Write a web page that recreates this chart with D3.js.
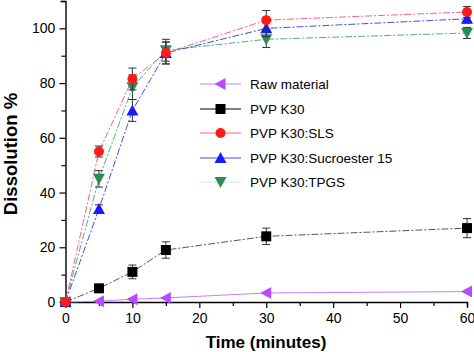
<!DOCTYPE html>
<html><head><meta charset="utf-8">
<script src="https://cdn.jsdelivr.net/npm/d3@7"></script>
<style>body{margin:0;background:#fff}svg{display:block}text{font-family:"Liberation Sans",Arial,sans-serif}</style>
</head><body><svg id="c" width="474" height="352"></svg>
<script>
const times = [0, 5, 10, 15, 30, 60];
const seriesNames = ["Raw material", "PVP K30", "PVP K30:SLS", "PVP K30:Sucroester 15", "PVP K30:TPGS"];
const rawMaterial = [0, 0.3, 1, 1.5, 3.3, 3.8];
const pvpK30 = [0, 5, 11, 19, 24, 27];
const pvpSLS = [0, 55, 81.5, 91, 103, 106];
const pvpSucro = [0, 34, 70, 91, 100, 103.5];
const pvpTPGS = [0, 45, 78.5, 92, 96, 98.3];
const errRaw = [0, 0, 0, 0, 0, 0];
const errK30 = [0, 0, 2.5, 3, 3, 3.5];
const errSLS = [0, 2, 4, 4, 3.5, 2];
const errSucro = [0, 1.5, 4, 4, 3, 1.5];
const errTPGS = [0, 3, 4.5, 4, 3, 2];
const xTicks = [0, 10, 20, 30, 40, 50, 60];
const yTicks = [0, 20, 40, 60, 80, 100];

const colors = ["#b44dff", "#000000", "#ff1a1a", "#1a1aff", "#2e8b57"];
const lineColors = ["#c77dff", "#555555", "#ff6080", "#4050e0", "#50b080"];
const shapes = ["triLeft", "square", "circle", "triUp", "triDown"];
const values = [rawMaterial, pvpK30, pvpSLS, pvpSucro, pvpTPGS];
const errs = [errRaw, errK30, errSLS, errSucro, errTPGS];

const svg = d3.select("#c");
const x = d3.scaleLinear().domain([0, 60]).range([65.5, 467]);
const y = d3.scaleLinear().domain([0, 110]).range([302, 1]);

// axes
const gx = svg.append("g").attr("transform", "translate(0,302)");
gx.call(d3.axisBottom(x).tickValues(d3.range(0, 61, 5)).tickSize(5).tickFormat(d => xTicks.includes(d) ? d : ""));
gx.selectAll(".tick line").attr("y2", d => xTicks.includes(d) ? 6 : 4);
const gy = svg.append("g").attr("transform", "translate(65.5,0)");
gy.call(d3.axisLeft(y).tickValues(d3.range(0, 111, 10)).tickSize(5).tickFormat(d => yTicks.includes(d) ? d : ""));
gy.selectAll(".tick line").attr("x2", d => yTicks.includes(d) ? -6 : -4);
[gx, gy].forEach(g => {
  g.select(".domain").attr("stroke", "#000").attr("stroke-width", 1.4);
  g.selectAll(".tick line").attr("stroke", "#000").attr("stroke-width", 1.2);
  g.selectAll("text").attr("font-size", 14).attr("fill", "#000");
});
gx.selectAll("text").attr("dy", "0.95em");
gy.selectAll("text").attr("dx", "-0.15em");

function sym(shape, s) {
  const h = s / 2;
  if (shape === "square") return `M${-h},${-h}H${h}V${h}H${-h}Z`;
  if (shape === "circle") return d3.symbol(d3.symbolCircle, Math.PI * h * h)();
  if (shape === "triUp") return `M0,${-h - 1}L${h + 1},${h}L${-h - 1},${h}Z`;
  if (shape === "triDown") return `M0,${h + 1}L${h + 1},${-h}L${-h - 1},${-h}Z`;
  if (shape === "triLeft") return `M${-h - 1},0L${h},${-h - 1}L${h},${h + 1}Z`;
}

const line = d3.line().x(d => x(d[0])).y(d => y(d[1]));
const order = [0, 1, 4, 3, 2];
order.forEach(i => {
  const pts = times.map((t, j) => [t, values[i][j]]);
  svg.append("path").attr("d", line(pts)).attr("fill", "none")
    .attr("stroke", lineColors[i]).attr("stroke-width", 1)
    .attr("stroke-dasharray", i === 0 ? null : "7,2,2,2");
});
order.forEach(i => {
  const g = svg.append("g");
  times.forEach((t, j) => {
    const e = errs[i][j];
    if (e > 0) {
      const cx = x(t), y1 = y(values[i][j] + e), y2 = y(values[i][j] - e);
      g.append("path").attr("d", `M${cx},${y1}V${y2}M${cx - 4},${y1}H${cx + 4}M${cx - 4},${y2}H${cx + 4}`)
        .attr("stroke", "#333").attr("stroke-width", 1).attr("fill", "none");
    }
    g.append("path").attr("d", sym(shapes[i], 10))
      .attr("transform", `translate(${x(t)},${y(values[i][j])})`)
      .attr("fill", colors[i]);
  });
});

// legend
const legY = [84, 109, 133, 158, 182];
seriesNames.forEach((n, i) => {
  const g = svg.append("g").attr("transform", `translate(0,${legY[i]})`);
  g.append("line").attr("x1", 200).attr("x2", 241).attr("stroke", i === 4 ? "#c8ead8" : lineColors[i]).attr("stroke-width", i === 1 ? 1.5 : 1);
  g.append("path").attr("d", sym(shapes[i], 10)).attr("transform", "translate(220.5,0)").attr("fill", colors[i]);
  g.append("text").attr("x", 250).attr("y", 5).attr("font-size", 13.5).attr("fill", "#000").text(n);
});

// titles
svg.append("text").attr("transform", "translate(17,154) rotate(-90)").attr("text-anchor", "middle")
  .attr("font-size", 18.5).attr("font-weight", "bold").text("Dissolution %");
svg.append("text").attr("x", 266).attr("y", 348).attr("text-anchor", "middle")
  .attr("font-size", 17).attr("font-weight", "bold").text("Time (minutes)");
</script></body></html>
